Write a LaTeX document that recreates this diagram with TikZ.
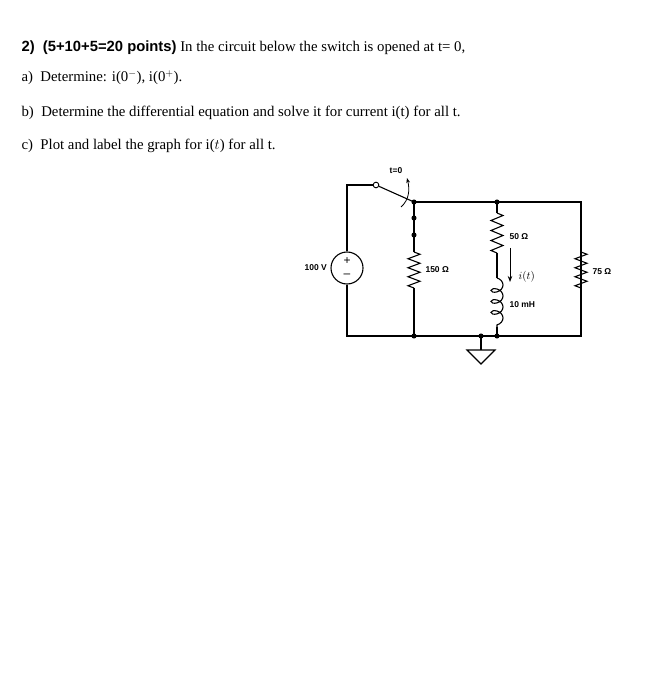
\documentclass[tikz,border=0pt]{standalone}
\usepackage{fontspec}
\setmainfont{Liberation Serif}
\setsansfont{Liberation Sans}
\usetikzlibrary{decorations.pathmorphing, decorations.pathreplacing, arrows.meta}
\tikzset{
    wire/.style={line width=1.1pt},
    res/.style={wire, decorate, decoration={zigzag, segment length=9pt, amplitude=6pt}},
    coilind/.style={wire, decorate, decoration={coil, aspect=0.7, segment length=11pt, amplitude=6pt}},
    dot/.style={circle, fill, inner sep=1.8pt},
    lbl/.style={font=\sffamily\bfseries\fontsize{8.5}{9}\selectfont},
    qtext/.style={anchor=base west, font=\fontsize{14.8}{16}\selectfont}
}
\begin{document}
\begin{tikzpicture}[x=1pt, y=-1pt]
    \useasboundingbox (0,0) rectangle (654,700);

    % question text
    \node[qtext] (q0) at (18,52) {\textsf{\textbf{2)\ \ (5+10+5=20 points)}} In the circuit below the switch is opened at t= 0,};
    \node[qtext] (qa) at (18,82) {a)\ \ Determine: i(0$^{-}$), i(0$^{+}$).};
    \node[qtext] (qb) at (18,117) {b)\ \ Determine the differential equation and solve it for current i(t) for all t.};
    \node[qtext] (qc) at (18,150) {c)\ \ Plot and label the graph for i($t$) for all t.};

    % circuit corners
    \coordinate (tl) at (347,185);
    \coordinate (bl) at (347,336);
    \coordinate (sw) at (376,185);
    \coordinate (n1) at (414,202);
    \coordinate (n2) at (497,202);
    \coordinate (tr) at (581,202);
    \coordinate (b1) at (414,336);
    \coordinate (b2) at (497,336);
    \coordinate (br) at (581,336);
    \coordinate (gnd) at (481,336);

    % source
    \node[circle, draw, line width=1.1pt, minimum size=32pt, inner sep=0pt] (src) at (347,268) {};
    \node[font=\sffamily\fontsize{12}{12}\selectfont, inner sep=0pt] at (347,261) {+};
    \node[font=\sffamily\fontsize{12}{12}\selectfont, inner sep=0pt] at (347,276) {--};
    \draw[wire] (src.north) -- (tl) -- (sw);
    \draw[wire] (src.south) -- (bl) -- (br) -- (tr) -- (n1);
    \node[lbl, anchor=east] at (src.west) {100 V};

    % switch
    \node[circle, draw, fill=white, line width=0.9pt, inner sep=2pt] (swc) at (sw) {};
    \draw[wire] (swc) -- (n1);
    \draw[line width=0.8pt, -{Stealth[length=5pt]}] (401,207) .. controls (409,200) and (410,190) .. (407,178);
    \node[lbl] at (396,171) {t=0};

    % 150 ohm branch
    \draw[wire] (n1) -- (414,252);
    \draw[res] (414,252) -- (414,288);
    \draw[wire] (414,288) -- (b1);
    \node[dot] at (414,218) {};
    \node[dot] at (414,235) {};
    \node[lbl, anchor=west] at (422,270) {150 Ω};

    % 50 ohm + inductor branch
    \draw[wire] (n2) -- (497,213);
    \draw[res, decoration={segment length=10pt}] (497,213) -- (497,253);
    \draw[wire] (497,253) -- (497,278);
    \draw[coilind] (497,278) -- (497,327);
    \draw[wire] (497,327) -- (b2);
    \node[lbl, anchor=west] at (506,237) {50 Ω};
    \node[lbl, anchor=west] at (506,305) {10 mH};
    \draw[line width=0.8pt, -{Stealth[length=6pt]}] (510,248) -- (510,282);
    \node[anchor=west, font=\fontsize{11}{12}\selectfont] at (515,277) {$i(t)$};

    % 75 ohm branch
    \draw[wire] (tr) -- (581,252);
    \draw[res] (581,252) -- (581,288);
    \draw[wire] (581,288) -- (br);
    \node[lbl, anchor=west] at (589,272) {75 Ω};

    % ground and junctions
    \draw[wire] (gnd) -- (481,350);
    \draw[wire] (467,350) -- (495,350) -- (481,364) -- cycle;
    \foreach \p in {n1, n2, b1, b2, gnd}
        \node[dot] at (\p) {};
\end{tikzpicture}
\end{document}
